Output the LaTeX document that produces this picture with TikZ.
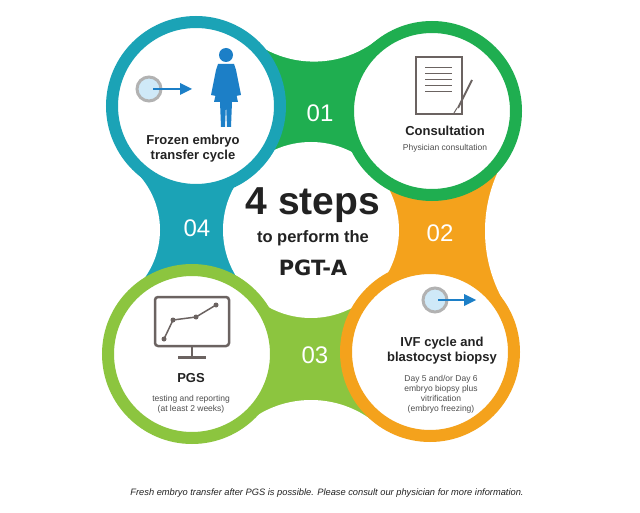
\documentclass[tikz,border=0pt]{standalone}
\usepackage{fontspec}
\setmainfont{Liberation Sans}
\newfontfamily\dvs{DejaVu Sans}
\definecolor{teal}{HTML}{1BA3B6}
\definecolor{grn}{HTML}{1FAE50}
\definecolor{org}{HTML}{F4A21C}
\definecolor{lgr}{HTML}{8CC53F}
\definecolor{blu}{HTML}{1C7FC7}
\definecolor{lblu}{HTML}{CFE9F8}
\definecolor{gry}{HTML}{6B6361}
\definecolor{txt}{HTML}{222222}
\begin{document}
\begin{tikzpicture}[x=1pt,y=-1pt,
  ring/.style={fill=white,line width=12pt},
  carve/.style={fill=white},
  num/.style={text=white,font=\fontsize{24}{24}\selectfont},
  ttl/.style={text=txt,font=\bfseries\fontsize{13}{15}\selectfont,align=center},
  sml/.style={text=txt!80,font=\fontsize{8.5}{10}\selectfont,align=center}]
\useasboundingbox[fill=white] (0,0) rectangle (640,513);
\coordinate (c0) at (311,230);
\coordinate (cTL) at (196,106);
\coordinate (cTR) at (432,111);
\coordinate (cBL) at (192,354);
\coordinate (cBR) at (430,352);
\coordinate (kT) at (314,-40.4);
\coordinate (kR) at (627,231);
\coordinate (kB) at (311,502);
\coordinate (kL) at (78,230);
% connectors
\fill[teal] (cTL) -- (kL) -- (cBL) -- (c0) -- cycle;
\fill[grn] (cTL) -- (kT) -- (cTR) -- (c0) -- cycle;
\fill[org] (cTR) -- (kR) -- (cBR) -- (c0) -- cycle;
\fill[lgr] (cBL) -- (kB) -- (cBR) -- (c0) -- cycle;
% carving
\fill[carve] (kT) circle (102);
\fill[carve] (kR) circle (142);
\fill[carve] (kB) circle (102);
\fill[carve] (kL) circle (82);
\fill[carve] (c0) circle (88);
% rings
\draw[ring,draw=teal] (cTL) circle (84);
\draw[ring,draw=grn] (cTR) circle (84);
\draw[ring,draw=lgr] (cBL) circle (84);
\draw[ring,draw=org] (cBR) circle (84);
% numbers
\node[num] (n1) at (320,113) {01};
\node[num] (n2) at (440,233) {02};
\node[num] (n3) at (315,355) {03};
\node[num] (n4) at (197,228) {04};
% center
\node[font=\bfseries\fontsize{39}{39}\selectfont,text=txt] (t1) at (313,205) {4 steps};
\node[font=\bfseries\fontsize{16.5}{16}\selectfont,text=txt] (t2) at (313,238) {to perform the};
\node[font=\dvs\bfseries\fontsize{21}{21}\selectfont,text=txt] (t3) at (313,268) {PGT-A};
% TL icon
\draw[gray!60,line width=3pt,fill=lblu] (149,89) circle (12);
\draw[blu,line width=2pt] (153,89) -- (182,89);
\fill[blu] (180,83) -- (192,89) -- (180,95) -- cycle;
\fill[blu] (226,55) circle (7);
\fill[blu] (218,64) -- (234,64) -- (236,70) -- (241,95) -- (236,96) -- (233,80) -- (238,102) -- (232,102) -- (231,127) -- (227,127) -- (226,104) -- (225,127) -- (221,127) -- (220,102) -- (214,102) -- (219,80) -- (216,96) -- (211,95) -- (216,70) -- cycle;
\node[ttl] (tl) at (193,149) {Frozen embryo\\transfer cycle};
% TR icon
\draw[gry,line width=2pt] (416,57) rectangle (462,114);
\foreach \y in {68,74,80,86,92}{\draw[gry,line width=1pt] (425,\y) -- (452,\y);}
\draw[gry,line width=2pt] (458,108) -- (472,80);
\draw[gry,line width=1pt] (454,113) -- (457,108);
\node[ttl] (tr) at (445,131) {Consultation};
\node[sml] (trs) at (445,148) {Physician consultation};
% BL icon
\draw[gry,line width=2.5pt,rounded corners=3pt] (155,297) rectangle (229,346);
\draw[gry,line width=2.5pt] (192,347) -- (192,356);
\draw[gry,line width=3pt] (178,357) -- (206,357);
\draw[gry,line width=1.5pt] (164,339) -- (173,320) -- (196,317) -- (216,305);
\foreach \p in {(164,339),(173,320),(196,317),(216,305)}{\fill[gry] \p circle (2.5);}
\node[ttl] (bl) at (191,378) {PGS};
\node[sml] (bls) at (191,404) {testing and reporting\\(at least 2 weeks)};
% BR icon
\draw[gray!60,line width=3pt,fill=lblu] (435,300) circle (12);
\draw[blu,line width=2pt] (438,300) -- (466,300);
\fill[blu] (464,294) -- (476,300) -- (464,306) -- cycle;
\node[ttl] (br) at (442,351) {IVF cycle and\\blastocyst biopsy};
\node[sml] (brs) at (441,394) {Day 5 and/or Day 6\\embryo biopsy plus\\vitrification\\(embryo freezing)};
% footer
\node[font=\itshape\fontsize{9.3}{10}\selectfont,text=txt] (ft) at (327,493) {Fresh embryo transfer after PGS is possible. Please consult our physician for more information.};
\end{tikzpicture}
\end{document}
